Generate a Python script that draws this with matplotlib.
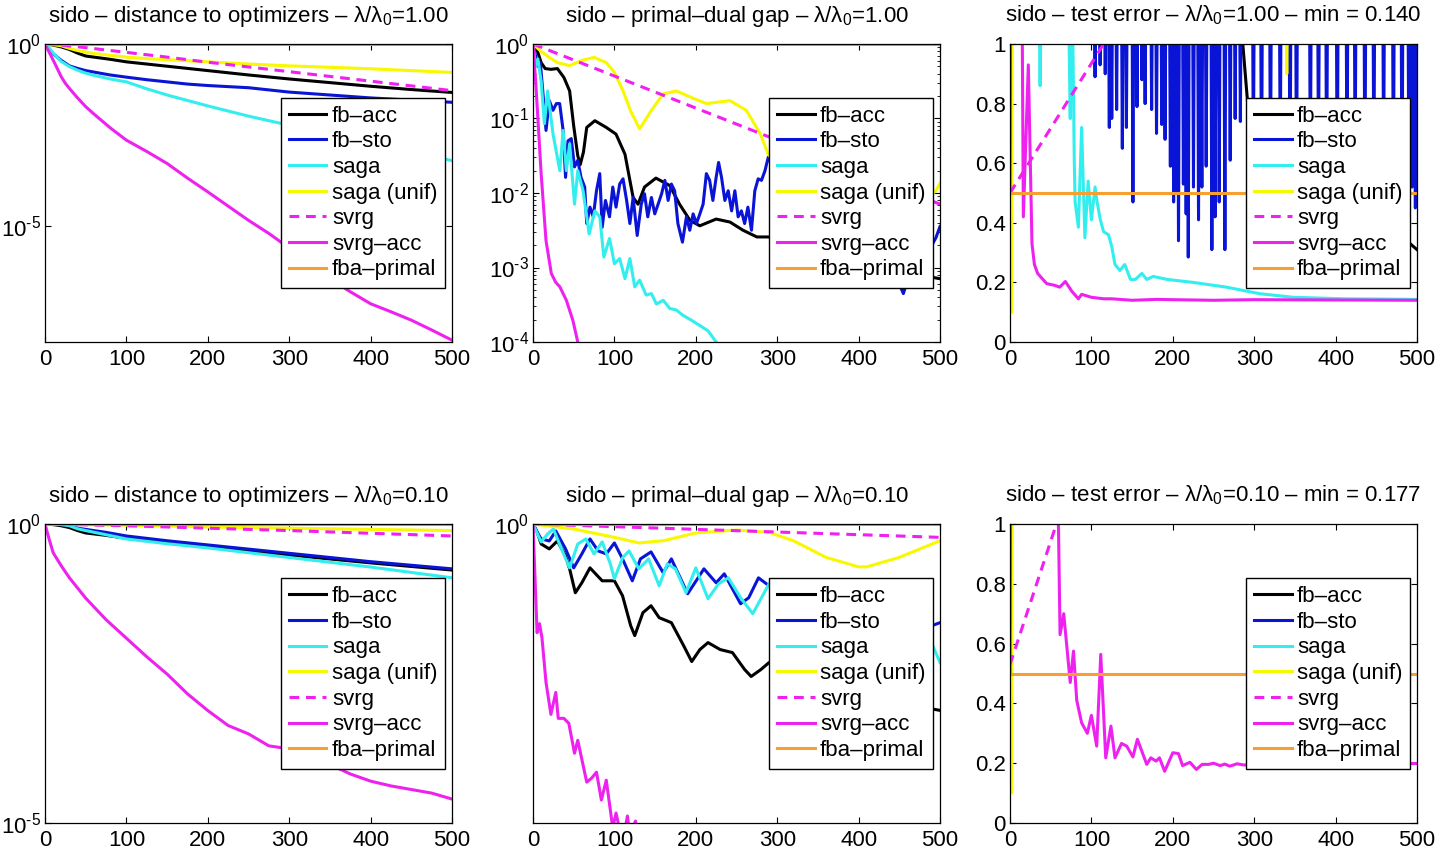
import numpy as np
import matplotlib
matplotlib.use('Agg')
import matplotlib.pyplot as plt
from matplotlib.ticker import NullLocator, FixedLocator, FixedFormatter, LogLocator

plt.rcParams['font.family'] = ['Liberation Sans', 'DejaVu Sans']
plt.rcParams['mathtext.fontset'] = 'custom'
plt.rcParams['mathtext.rm'] = 'Liberation Sans'
plt.rcParams['mathtext.it'] = 'Liberation Sans'
plt.rcParams['mathtext.bf'] = 'Liberation Sans'
plt.rcParams['mathtext.default'] = 'regular'
plt.rcParams['font.size'] = 16

# ---- legend / styles ----
names = ['fb–acc', 'fb–sto', 'saga', 'saga (unif)', 'svrg', 'svrg–acc', 'fba–primal']
colors = ['black', '#0a14d6', '#33eeee', '#f8f800', '#f020f0', '#ee22ee', '#f5a030']
styles = ['-', '-', '-', '-', '--', '-', '-']

OFF = 1.3  # test error value off the top of the axes

# ---- top row : lambda/lambda0 = 1.00 ----
# distance to optimizers (log10 values)
d1_x = [0, 5, 10, 20, 30, 40, 50, 60, 80, 100, 125, 150, 175, 200, 250, 300, 350, 400, 450, 500]
d1_fbacc = [0, -0.01, -0.03, -0.08, -0.15, -0.25, -0.33, -0.36, -0.42, -0.49, -0.55, -0.61, -0.67, -0.73, -0.85, -0.96, -1.06, -1.16, -1.25, -1.33]
d1_fbsto = [0, -0.15, -0.27, -0.45, -0.6, -0.67, -0.73, -0.77, -0.85, -0.91, -0.98, -1.04, -1.10, -1.14, -1.20, -1.32, -1.40, -1.48, -1.54, -1.60]
d1_saga = [0, -0.1, -0.25, -0.48, -0.62, -0.72, -0.8, -0.86, -0.96, -1.04, -1.23, -1.40, -1.55, -1.70, -1.98, -2.23, -2.47, -2.71, -2.96, -3.2]
d1_sagau = [0, -0.01, -0.02, -0.05, -0.12, -0.18, -0.22, -0.26, -0.31, -0.36, -0.40, -0.43, -0.46, -0.49, -0.55, -0.60, -0.64, -0.68, -0.73, -0.78]
d1_svrg_x = [0, 20, 50, 100, 150, 200, 250, 300, 350, 400, 450, 500]
d1_svrg = [0, -0.03, -0.10, -0.23, -0.36, -0.50, -0.63, -0.76, -0.89, -1.02, -1.15, -1.28]
d1_svrgacc_x = [0, 5, 10, 20, 25, 30, 40, 50, 60, 80, 100, 125, 150, 175, 200, 225, 250, 275, 300, 325, 350, 375, 400, 425, 450, 475, 500]
d1_svrgacc = [0, -0.22, -0.44, -0.9, -1.08, -1.22, -1.48, -1.72, -1.92, -2.3, -2.64, -2.95, -3.28, -3.68, -4.06, -4.45, -4.84, -5.2, -5.6, -6.0, -6.44, -6.8, -7.13, -7.35, -7.58, -7.85, -8.13]

# primal-dual gap (log10 values)
g1_fbacc_x = [0, 5, 10, 15, 22, 30, 38, 45, 50, 55, 58, 62, 66, 76, 90, 102, 113, 123, 129, 137, 151, 168, 180, 193, 205, 225, 242, 258, 275, 289, 350, 420, 500]
g1_fbacc = [0, -0.08, -0.25, -0.33, -0.34, -0.33, -0.45, -0.63, -1.1, -1.5, -1.62, -1.45, -1.12, -1.03, -1.12, -1.21, -1.48, -2.06, -2.15, -1.92, -1.80, -1.90, -2.15, -2.37, -2.44, -2.35, -2.39, -2.50, -2.59, -2.59, -2.8, -3.0, -3.15]
g1_fbsto = [(0, 0), (3, -0.15), (6, -0.3), (9, -0.25), (12, -0.63), (16, -1.16), (20, -0.76), (24.6, -0.89),
            (28.7, -0.80), (32.8, -0.80), (37, -1.16), (40, -1.79), (43, -1.30), (47, -1.27), (51, -1.65),
            (55, -1.56), (59, -1.79), (63.5, -1.92), (66, -2.41), (70, -2.19), (74, -2.32), (78, -1.97),
            (82, -1.74), (85, -2.46), (89, -2.10), (94, -2.32), (98, -1.92), (102, -2.19), (106.5, -1.88),
            (110.6, -1.81), (115, -2.10), (119, -2.41), (123, -2.06), (128, -2.57), (133, -2.15), (137, -2.01),
            (141, -2.32), (145.5, -2.06), (149.6, -2.28), (153.7, -2.15), (158, -2.01), (162, -1.83),
            (166, -2.10), (170, -1.88), (174, -1.97), (178, -2.41), (183.6, -2.66), (188.5, -2.32),
            (192.6, -2.50), (196.7, -2.28), (200.8, -2.41), (205, -2.28), (209, -2.15), (213, -1.74),
            (217, -1.83), (221, -2.10), (225, -1.79), (228, -1.59), (231.6, -1.79), (235.7, -2.10),
            (239.8, -1.97), (244, -2.24), (248, -1.97), (252, -2.32), (256, -2.24), (260, -2.41),
            (264, -2.19), (268.4, -2.50), (272.5, -1.97), (276.6, -1.81), (280.7, -1.83), (285, -1.70),
            (289, -1.52), (300, -1.8), (320, -2.2), (350, -2.5), (380, -2.7), (410, -2.9), (430, -3.0),
            (445, -3.1), (455, -3.35), (462, -3.1), (475, -2.9), (485, -2.8), (495, -2.6), (500, -2.45)]
g1_saga = [(0, 0), (3, -0.3), (6, -0.2), (10, -0.5), (14, -1.07), (18, -0.63), (24.6, -1.21), (33, -1.70),
           (37, -1.16), (41, -1.70), (45, -1.34), (51, -2.15), (55, -1.70), (61.5, -1.97), (69, -2.55),
           (76, -2.24), (82, -2.32), (87, -2.86), (94, -2.61), (100, -2.95), (106.5, -2.88), (113, -3.15),
           (119, -2.88), (125, -3.26), (131, -3.17), (139, -3.37), (145.5, -3.35), (151.6, -3.49),
           (160, -3.44), (168, -3.55), (176, -3.57), (184, -3.64), (195, -3.71), (205, -3.78),
           (215, -3.85), (225, -4.0), (240, -4.15)]
g1_sagau = [(0, 0), (10, -0.1), (20, -0.18), (30, -0.25), (45, -0.29), (60, -0.22), (75, -0.18), (90, -0.25),
            (100, -0.38), (110.6, -0.63), (120, -0.9), (131, -1.14), (145.5, -0.89), (160, -0.67),
            (176, -0.63), (195, -0.72), (213, -0.80), (242, -0.76), (262, -0.89), (279, -1.20),
            (289, -1.48), (320, -1.9), (360, -2.3), (400, -2.5), (440, -2.4), (470, -2.2), (495, -1.97), (500, -1.87)]
g1_svrg_x = [0, 500]
g1_svrg = [0, -2.15]
g1_svrgacc = [(0, 0), (2, -0.3), (4, -0.63), (10, -1.74), (16, -2.64), (22.5, -3.08), (28, -3.2), (33, -3.26),
              (41, -3.44), (49, -3.71), (55, -4.0), (65, -4.4)]

# test error
t1_fbacc_x = [0, 2, 280, 286, 292, 500]
t1_fbacc = [0.5, OFF, OFF, 1.0, 0.8, 0.31]
t1_fbsto_spike_x = [104.5, 110.7, 117, 122, 125, 131, 138, 143, 151, 156, 162, 166, 174, 180, 186.5, 190.5,
                    197, 201, 205, 207, 213, 216.4, 219, 225.4, 231.6, 235.7, 241, 248, 252, 257, 264, 270.5,
                    276.6, 283, 299, 309, 320, 332, 344, 352, 369, 379, 389, 402, 414, 424, 436, 447, 459,
                    471, 481.6, 490, 494, 498]
t1_fbsto_spike_low = [0.89, 0.93, 0.9, 0.72, 0.75, 0.78, 0.65, 0.72, 0.47, 0.79, 0.88, 0.80, 0.78, 0.70, 0.73,
                      0.68, 0.59, 0.47, 0.50, 0.34, 0.53, 0.43, 0.285, 0.52, 0.41, 0.52, 0.59, 0.31, 0.42,
                      0.47, 0.31, 0.61, 0.75, 0.74, 0.6, 0.5, 0.55, 0.6, 0.45, 0.5, 0.55, 0.6, 0.5, 0.45,
                      0.55, 0.6, 0.5, 0.55, 0.6, 0.5, 0.45, 0.55, 0.52, 0.45]
t1_saga_x = [0, 2, 35, 37, 39, 71, 74, 76, 79, 80, 84, 88, 92, 96, 100, 104.5, 107, 111, 115, 121, 125, 129,
             135, 141, 148, 154, 162, 168, 176, 193, 225, 266, 307, 348, 410, 500]
t1_saga = [0.5, OFF, OFF, 0.86, OFF, OFF, 0.75, OFF, 0.6, 0.47, 0.385, 0.72, 0.35, 0.54, 0.41, 0.52, 0.47, 0.41,
           0.37, 0.36, 0.32, 0.26, 0.24, 0.26, 0.21, 0.21, 0.23, 0.21, 0.22, 0.21, 0.2, 0.184, 0.162, 0.15,
           0.145, 0.143]
t1_sagau_x = [0, 2, 3, 338, 340, 342, 500]
t1_sagau = [0.5, 0.1, OFF, OFF, 0.9, OFF, OFF]
t1_svrg_x = [0, 230]
t1_svrg = [0.5, 1.5]
t1_svrgacc_x = [0, 1, 14.5, 16.4, 22.5, 27, 30, 34, 45, 55, 61, 68, 76, 84, 88, 100, 115, 125, 150, 180, 200,
                250, 300, 400, 500]
t1_svrgacc = [0.5, OFF, OFF, 0.42, 0.93, 0.33, 0.26, 0.23, 0.196, 0.19, 0.184, 0.203, 0.17, 0.145, 0.16, 0.15,
              0.145, 0.145, 0.14, 0.143, 0.142, 0.14, 0.142, 0.141, 0.14]

# ---- bottom row : lambda/lambda0 = 0.10 ----
d2_x = [0, 10, 20, 30, 40, 50, 75, 100, 150, 200, 250, 300, 350, 400, 450, 500]
d2_fbacc = [0, -0.01, -0.03, -0.06, -0.11, -0.15, -0.19, -0.24, -0.31, -0.38, -0.45, -0.52, -0.585, -0.65, -0.71, -0.77]
d2_fbsto = [0, -0.005, -0.01, -0.02, -0.07, -0.09, -0.14, -0.20, -0.28, -0.35, -0.42, -0.49, -0.56, -0.63, -0.69, -0.75]
d2_saga = [0, -0.005, -0.01, -0.03, -0.08, -0.11, -0.18, -0.25, -0.33, -0.40, -0.48, -0.56, -0.64, -0.72, -0.81, -0.90]
d2_sagau_x = [0, 100, 200, 300, 400, 500]
d2_sagau = [0, -0.02, -0.05, -0.07, -0.09, -0.11]
d2_svrg_x = [0, 100, 200, 300, 400, 500]
d2_svrg = [0, -0.03, -0.07, -0.11, -0.155, -0.2]
d2_svrgacc_x = [0, 5, 10, 20, 30, 40, 50, 75, 100, 125, 150, 175, 200, 225, 250, 275, 300, 325, 350, 375, 400, 425, 450, 475, 500]
d2_svrgacc = [0, -0.25, -0.48, -0.70, -0.90, -1.07, -1.24, -1.60, -1.91, -2.22, -2.51, -2.84, -3.12, -3.37, -3.51,
              -3.71, -3.76, -3.88, -4.02, -4.18, -4.30, -4.38, -4.44, -4.50, -4.60]

g2_fbacc_x = [0, 5, 10, 20, 30, 40, 45, 52, 60, 70, 85, 100, 110, 120, 125, 135, 145, 155, 170, 185, 195, 205,
              215, 230, 245, 260, 268, 280, 290, 350, 420, 500]
g2_fbacc = [0, -0.08, -0.2, -0.25, -0.17, -0.32, -0.45, -0.69, -0.59, -0.44, -0.57, -0.57, -0.72, -1.02, -1.12,
            -0.89, -0.82, -0.94, -0.99, -1.22, -1.38, -1.26, -1.19, -1.26, -1.29, -1.46, -1.53, -1.46, -1.39,
            -1.6, -1.75, -1.87]
g2_fbsto_x = [0, 5, 10, 20, 28, 40, 50, 60, 70, 80, 90, 100, 110, 122, 132, 145, 160, 170, 190, 210, 225, 235,
              255, 265, 277, 290, 350, 420, 480, 500]
g2_fbsto = [0, -0.08, -0.15, -0.17, -0.07, -0.25, -0.44, -0.3, -0.15, -0.27, -0.3, -0.19, -0.35, -0.57, -0.35,
            -0.28, -0.49, -0.35, -0.70, -0.45, -0.59, -0.5, -0.80, -0.74, -0.54, -0.62, -0.8, -0.9, -1.05, -0.99]
g2_saga_x = [0, 10, 18, 25, 35, 45, 55, 65, 75, 85, 95, 100, 110, 118, 130, 142, 155, 165, 175, 188, 200, 215,
             228, 240, 255, 270, 280, 290, 350, 420, 490, 500]
g2_saga = [0, -0.18, -0.1, -0.05, -0.25, -0.44, -0.2, -0.15, -0.3, -0.18, -0.4, -0.55, -0.34, -0.27, -0.45,
           -0.35, -0.62, -0.4, -0.45, -0.69, -0.44, -0.75, -0.6, -0.54, -0.74, -0.9, -0.75, -0.6, -0.9, -1.1,
           -1.2, -1.39]
g2_sagau_x = [0, 50, 100, 130, 160, 200, 250, 290, 320, 360, 400, 410, 450, 500]
g2_sagau = [0, -0.05, -0.134, -0.19, -0.168, -0.09, -0.06, -0.084, -0.168, -0.335, -0.43, -0.43, -0.335, -0.168]
g2_svrg_x = [0, 500]
g2_svrg = [0, -0.134]
g2_svrgacc_x = [0, 5, 8, 11, 16, 22, 28, 31, 38, 44, 51, 55, 66, 72, 78, 84, 90, 98, 102, 106, 114, 116, 118,
                124, 126, 128, 140, 200, 500]
g2_svrgacc = [0, -1.09, -1.0, -1.14, -1.59, -1.91, -1.69, -1.95, -1.95, -2.0, -2.30, -2.17, -2.59, -2.55, -2.49,
              -2.77, -2.57, -3.05, -2.9, -3.05, -3.02, -2.93, -3.05, -3.02, -2.98, -3.1, -3.2, -3.4, -3.6]

t2_sagau_x = [0, 2, 3, 500]
t2_sagau = [0.5, 0.1, OFF, OFF]
t2_svrg_x = [0, 57, 114]
t2_svrg = [0.53, 1.0, 1.47]
t2_svrgacc_x = [0, 1, 58, 59.5, 61.5, 66, 74, 78, 82, 88, 95, 100, 106.5, 111.5, 117.6, 124, 129, 137, 143.4,
                151, 156.5, 168, 173, 179.5, 183.6, 190, 200, 207, 212, 221, 229, 236, 244, 250, 258, 264,
                270, 279, 287, 350, 400, 450, 500]
t2_svrgacc = [0.5, OFF, OFF, 1.0, 0.63, 0.70, 0.47, 0.575, 0.41, 0.335, 0.30, 0.36, 0.257, 0.564, 0.218, 0.324,
              0.218, 0.266, 0.257, 0.221, 0.28, 0.196, 0.218, 0.207, 0.218, 0.173, 0.235, 0.232, 0.192, 0.203,
              0.179, 0.196, 0.196, 0.20, 0.192, 0.197, 0.190, 0.198, 0.194, 0.197, 0.199, 0.198, 0.199]


def unzip(pairs):
    return [p[0] for p in pairs], [p[1] for p in pairs]


def spikes(xs, lows):
    # each spike drops from off-axis down to its low value and back
    sx, sy = [0, 2], [0.5, OFF]
    for x, v in zip(xs, lows):
        sx += [x - 1.3, x, x + 1.3]
        sy += [OFF, v, OFF]
    sx.append(500)
    sy.append(OFF)
    return sx, sy


def p10(v):
    return 10.0 ** np.array(v)


def decade_labels(exps):
    # matlab style 10^n, with a short hyphen to keep the label narrow
    return ['$10^{%s}$' % (str(e).replace('-', '‐')) for e in exps]


def draw(ax, curves, title, log=True):
    for i, c in enumerate(curves):
        x, y = c if c is not None else ([], [])
        if log and len(y):
            y = p10(y)
        ln, = ax.plot(x, y, color=colors[i], ls=styles[i], lw=2.2, label=names[i])
        if styles[i] == '--':
            ln.set_dashes((3.2, 2.2))
    ax.set_xlim(0, 500)
    ax.set_xticks([0, 100, 200, 300, 400, 500])
    ax.tick_params(direction='in', top=True, right=True, length=4, width=0.8, labelsize=16, pad=5)
    ax.tick_params(axis='y', pad=3)
    ax.tick_params(which='minor', direction='in', top=True, right=True, length=2.5, width=0.6)
    for s in ax.spines.values():
        s.set_linewidth(0.9)
    ax.set_title(title, fontsize=16, pad=16)
    ax.legend(loc='center right', fontsize=16, frameon=True, fancybox=False, edgecolor='black',
              framealpha=1, handlelength=1.7, handletextpad=0.25, labelspacing=0.21,
              borderpad=0.35, borderaxespad=0.3)


def log_ticks(ax, exps, minor=False):
    ax.yaxis.set_major_locator(FixedLocator([10.0 ** e for e in exps]))
    ax.yaxis.set_major_formatter(FixedFormatter(decade_labels(exps)))
    if minor:
        ax.yaxis.set_minor_locator(LogLocator(subs=np.arange(2, 10)))
    else:
        ax.yaxis.set_minor_locator(NullLocator())


fig = plt.figure(figsize=(14.37, 8.49), dpi=100)
lefts = [45 / 1437, 533 / 1437, 1010 / 1437]
w = 407 / 1437
rows = [(1 - 342 / 849, 298 / 849), (1 - 823 / 849, 299 / 849)]
axs = [[fig.add_axes([l, b, w, h]) for l in lefts] for (b, h) in rows]

lam = ['1.00', '0.10']
flat = ([0, 500], [0, 0])

# panel 1
ax = axs[0][0]
ax.set_yscale('log')
draw(ax, [(d1_x, d1_fbacc), (d1_x, d1_fbsto), (d1_x, d1_saga), (d1_x, d1_sagau),
          (d1_svrg_x, d1_svrg), (d1_svrgacc_x, d1_svrgacc), flat],
     'sido – distance to optimizers – $λ/λ_0$=' + lam[0])
ax.set_ylim(10 ** -8.18, 1)
log_ticks(ax, [-5, 0])

# panel 2
ax = axs[0][1]
ax.set_yscale('log')
draw(ax, [(g1_fbacc_x, g1_fbacc), unzip(g1_fbsto), unzip(g1_saga), unzip(g1_sagau),
          (g1_svrg_x, g1_svrg), unzip(g1_svrgacc), flat],
     'sido – primal–dual gap – $λ/λ_0$=' + lam[0])
ax.set_ylim(1e-4, 1)
log_ticks(ax, [-4, -3, -2, -1, 0], minor=True)

# panel 3
ax = axs[0][2]
draw(ax, [(t1_fbacc_x, t1_fbacc), spikes(t1_fbsto_spike_x, t1_fbsto_spike_low), (t1_saga_x, t1_saga),
          (t1_sagau_x, t1_sagau), (t1_svrg_x, t1_svrg), (t1_svrgacc_x, t1_svrgacc), ([0, 500], [0.5, 0.5])],
     'sido – test error – $λ/λ_0$=' + lam[0] + ' – min = 0.140', log=False)

# panel 4
ax = axs[1][0]
ax.set_yscale('log')
draw(ax, [(d2_x, d2_fbacc), (d2_x, d2_fbsto), (d2_x, d2_saga), (d2_sagau_x, d2_sagau),
          (d2_svrg_x, d2_svrg), (d2_svrgacc_x, d2_svrgacc), flat],
     'sido – distance to optimizers – $λ/λ_0$=' + lam[1])
ax.set_ylim(1e-5, 1)
log_ticks(ax, [-5, 0])

# panel 5
ax = axs[1][1]
ax.set_yscale('log')
draw(ax, [(g2_fbacc_x, g2_fbacc), (g2_fbsto_x, g2_fbsto), (g2_saga_x, g2_saga), (g2_sagau_x, g2_sagau),
          (g2_svrg_x, g2_svrg), (g2_svrgacc_x, g2_svrgacc), flat],
     'sido – primal–dual gap – $λ/λ_0$=' + lam[1])
ax.set_ylim(1e-3, 1)
log_ticks(ax, [0])

# panel 6
ax = axs[1][2]
draw(ax, [None, None, None, (t2_sagau_x, t2_sagau), (t2_svrg_x, t2_svrg), (t2_svrgacc_x, t2_svrgacc),
          ([0, 500], [0.5, 0.5])],
     'sido – test error – $λ/λ_0$=' + lam[1] + ' – min = 0.177', log=False)

for ax in (axs[0][2], axs[1][2]):
    ax.set_ylim(0, 1)
    ax.set_yticks([0, 0.2, 0.4, 0.6, 0.8, 1])
    ax.set_yticklabels(['0', '0.2', '0.4', '0.6', '0.8', '1'])

fig.savefig('out.png', dpi=100)
